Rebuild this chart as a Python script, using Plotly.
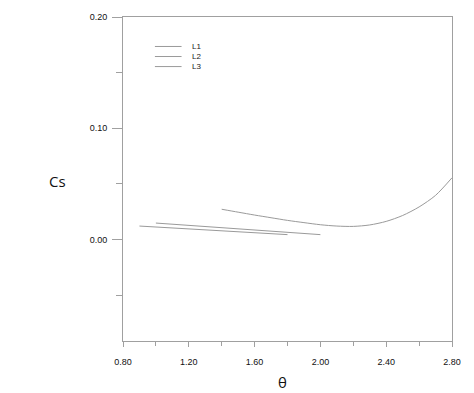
import plotly.graph_objects as go

# Data
l1_x = [1.4, 1.5, 1.6, 1.7, 1.8, 1.9, 2.0, 2.1, 2.2, 2.3, 2.4, 2.5, 2.6, 2.7, 2.8]
l1_y = [0.0272, 0.0246, 0.0220, 0.0196, 0.0172, 0.0152, 0.0133, 0.0121, 0.0118, 0.0131, 0.0163, 0.0216, 0.0293, 0.0397, 0.0555]
l2_x = [1.0, 2.0]
l2_y = [0.0148, 0.0044]
l3_x = [0.9, 1.8]
l3_y = [0.0121, 0.0044]

names = ["L1", "L2", "L3"]
x_ticks = [0.8, 1.2, 1.6, 2.0, 2.4, 2.8]
x_ticklabels = ["0.80", "1.20", "1.60", "2.00", "2.40", "2.80"]
y_ticks = [0.0, 0.1, 0.2]
y_ticklabels = ["0.00", "0.10", "0.20"]

line_color = "#9a9a9a"
axis_color = "#a0a0a0"
fig = go.Figure()
for nm, xs, ys in zip(names, [l1_x, l2_x, l3_x], [l1_y, l2_y, l3_y]):
    fig.add_trace(go.Scatter(x=xs, y=ys, mode="lines", name=nm,
                             line=dict(color=line_color, width=1, shape="spline", smoothing=0.8),
                             showlegend=False))

# Compact legend (sample lines + labels) at top-left of the plot area
shapes = []
annotations = []
legend_y = [0.909, 0.878, 0.847]
for nm, ly in zip(names, legend_y):
    shapes.append(dict(type="line", xref="paper", yref="paper", x0=0.097, x1=0.178,
                       y0=ly, y1=ly, line=dict(color=line_color, width=1)))
    annotations.append(dict(text=nm, xref="paper", yref="paper", x=0.205, y=ly,
                            xanchor="left", yanchor="middle", showarrow=False,
                            font=dict(family="Liberation Sans, Arial", size=8, color="#222")))

annotations += [
    dict(text="Cs", xref="paper", yref="paper", x=-0.198, y=0.495, showarrow=False,
         font=dict(family="Open Sans, Liberation Sans", size=15, color="#111"),
         xanchor="center", yanchor="middle"),
    dict(text="θ", xref="paper", yref="paper", x=0.486, y=-0.128, showarrow=False,
         font=dict(family="Open Sans, Liberation Sans", size=15, color="#111"),
         xanchor="center", yanchor="middle"),
]

axis_common = dict(showgrid=False, zeroline=False, showline=True, linecolor=axis_color,
                   linewidth=1, mirror=True, ticks="outside", tickcolor=axis_color,
                   tickfont=dict(family="Liberation Sans, Arial", size=9, color="#111"))

fig.update_layout(
    width=474, height=393,
    margin=dict(l=123, r=22, t=12, b=52),
    paper_bgcolor="white", plot_bgcolor="white",
    showlegend=False,
    xaxis=dict(range=[0.8, 2.8], tickvals=x_ticks, ticktext=x_ticklabels, ticklen=5,
               ticklabelstandoff=7,
               minor=dict(ticks="outside", ticklen=4, dtick=0.2, tickcolor=axis_color),
               **axis_common),
    yaxis=dict(range=[-0.0912, 0.2], tickvals=y_ticks, ticktext=y_ticklabels, ticklen=10,
               ticklabelstandoff=3,
               minor=dict(ticks="outside", ticklen=6, tickvals=[-0.05, 0.05, 0.15], tickcolor=axis_color),
               **axis_common),
    shapes=shapes,
    annotations=annotations,
)

fig.write_html("out.html", config={"displayModeBar": False},
               post_script="document.body.style.margin='0';document.body.style.padding='0';")
